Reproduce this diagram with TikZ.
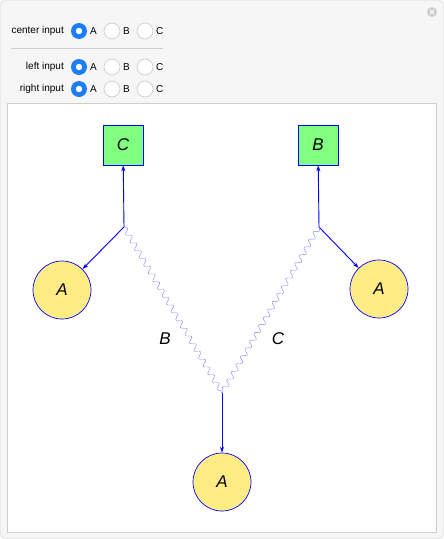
\documentclass[tikz,border=0pt]{standalone}
\usepackage{fontspec}
\setmainfont{Liberation Sans}
\usetikzlibrary{arrows.meta,decorations.pathmorphing}

\definecolor{panelgray}{RGB}{246,246,246}
\definecolor{framegray}{RGB}{205,205,205}
\definecolor{radioblue}{RGB}{28,125,245}
\definecolor{propyellow}{RGB}{255,236,133}
\definecolor{boxgreen}{RGB}{128,255,128}

\tikzset{
  ctrltext/.style={font=\fontsize{10}{12}\selectfont, inner sep=0pt},
  radiooff/.style={circle, draw=framegray, fill=white, minimum size=16pt, inner sep=0pt, line width=0.7pt},
  radioon/.style={circle, fill=radioblue, minimum size=16pt, inner sep=0pt,
    path picture={\fill[white] (path picture bounding box.center) circle[radius=3.2pt];}},
  extleg/.style={circle, draw=blue, line width=0.7pt, fill=propyellow, minimum size=58pt, inner sep=0pt,
    font=\fontsize{17}{19}\selectfont\itshape},
  outbox/.style={draw=blue, line width=0.7pt, fill=boxgreen, minimum size=40pt, inner sep=0pt,
    font=\fontsize{17}{19}\selectfont\itshape},
  prop/.style={draw=blue, line width=0.9pt, -{Stealth[length=6pt,width=4pt]}},
  gluon/.style={draw=blue!50, decorate, decoration={snake, segment length=9pt, amplitude=2.6pt}},
  edgelbl/.style={font=\fontsize{17}{19}\selectfont\itshape}
}

\begin{document}
\begin{tikzpicture}[x=1pt, y=-1pt]

\useasboundingbox (0,0) rectangle (444,539);
% panel and plot frame
\draw[framegray, fill=panelgray, rounded corners=4pt] (0.5,0.5) rectangle (443.5,538.5);
\draw[framegray, fill=white] (7,103) rectangle (436,532);
\fill[framegray] (432,12) circle[radius=5pt];
\draw[white, line width=0.9pt] (430,10) -- (434,14) (434,10) -- (430,14);

% controls
\node[ctrltext, anchor=east] (lblcenter) at (64,31) {center input};
\node[ctrltext, anchor=east] (lblleft) at (64,67) {left input};
\node[ctrltext, anchor=east] (lblright) at (64,89) {right input};
\draw[framegray] (11,48) -- (163,48);
\foreach \row/\yy in {center/31, left/67, right/89}{
  \node[radioon] (\row A) at (79,\yy) {};
  \node[radiooff] (\row B) at (112,\yy) {};
  \node[radiooff] (\row C) at (145,\yy) {};
  \node[ctrltext, anchor=west] at (90,\yy) {A};
  \node[ctrltext, anchor=west] at (123,\yy) {B};
  \node[ctrltext, anchor=west] at (156,\yy) {C};
}

% vertices
\coordinate (vL) at (124,227);
\coordinate (vR) at (319,227);
\coordinate (vB) at (222,393);

% external legs
\node[outbox] (boxC) at (123,145) {C};
\node[outbox] (boxB) at (318,145) {B};
\node[extleg] (inL) at (62,290) {A};
\node[extleg] (inR) at (379,289) {A};
\node[extleg] (inB) at (222,482) {A};

\draw[prop] (vL) -- (boxC);
\draw[prop] (vR) -- (boxB);
\draw[prop] (vL) -- (inL);
\draw[prop] (vR) -- (inR);
\draw[prop] (vB) -- (inB);

% internal lines
\draw[gluon] (vL) -- (vB);
\draw[gluon] (vR) -- (vB);
\node[edgelbl] (lblB) at (165,339) {B};
\node[edgelbl] (lblC) at (278,339) {C};

\end{tikzpicture}
\end{document}
